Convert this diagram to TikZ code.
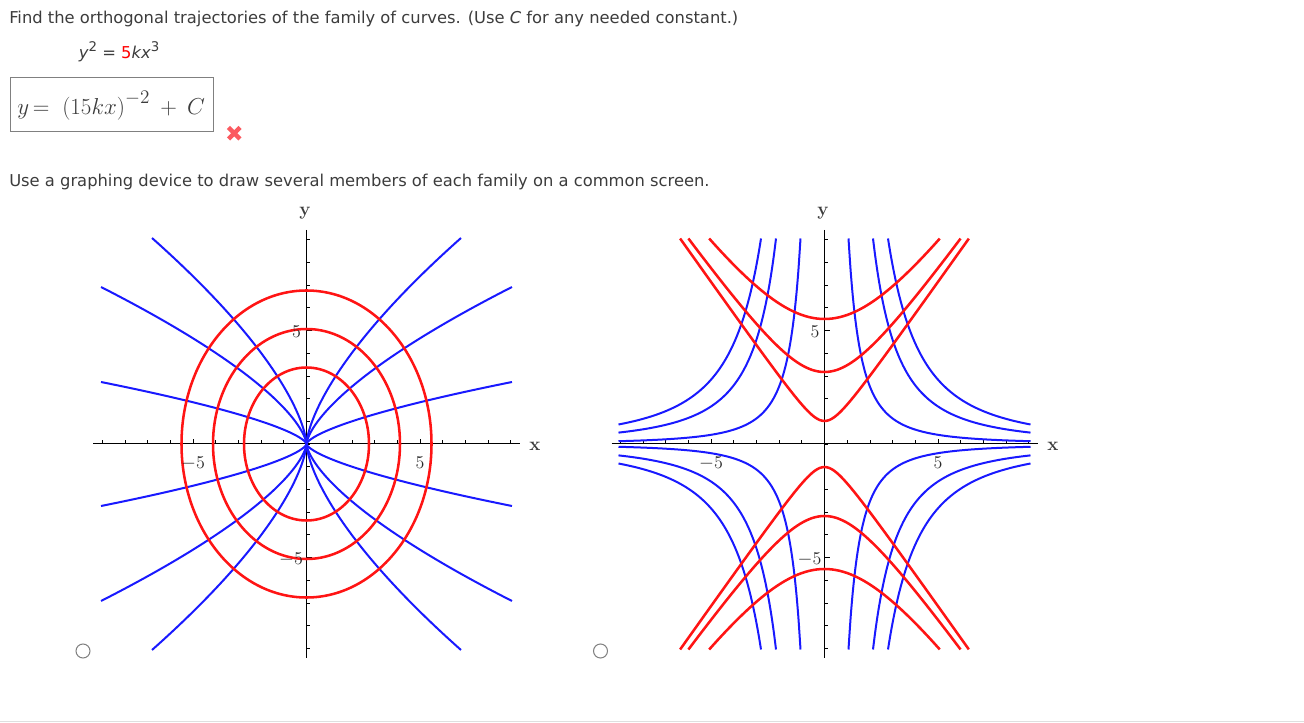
\documentclass[tikz,border=0pt]{standalone}
\usepackage{fontspec}
\setmainfont{DejaVu Sans}
\newfontfamily\plotfont{Latin Modern Roman}

\definecolor{textgray}{HTML}{3C3C3C}
\definecolor{crossred}{HTML}{FB5A60}

\newcommand{\raisedigit}[1]{\raisebox{0.42em}{\fontsize{10}{10}\selectfont #1}}

\tikzset{
  bluecurve/.style={line width=1.5pt,color=blue!90!white},
  redcurve/.style={line width=1.9pt,color=red!92!white},
  axisline/.style={line width=0.75pt,color=black},
  ticknum/.style={font=\plotfont\fontsize{13.5}{14}\selectfont,color=textgray!70!black},
  axisname/.style={font=\plotfont\bfseries\fontsize{14}{14}\selectfont,color=textgray},
  question/.style={font=\fontsize{12.25}{14}\selectfont,color=textgray,anchor=base west,inner sep=0pt},
  radio/.style={line width=0.8pt,color=gray}
}

\begin{document}
\begin{tikzpicture}[x=0.75pt,y=-0.75pt]
\useasboundingbox (0,0) rectangle (1304,723);

% question text
\node [question] (find) at (9,24) {Find the orthogonal trajectories of the family of curves. (Use \textit{C} for any needed constant.)};
\node [question] (family) at (78.5,58.5) {\textit{y}\raisedigit{2} = {\color{red}5}\textit{kx}\raisedigit{3}};
\node [question] (device) at (9,187) {Use a graphing device to draw several members of each family on a common screen.};

% answer box
\draw[gray,line width=0.75pt] (10,77.5) rectangle (213,132);
\node [color=textgray,inner sep=0pt,anchor=base west] (answer) at (17,115) {\fontsize{17.5}{20}\selectfont $y\,{=}\;\;\Bigl(15kx\Bigr)^{\mbox{\fontsize{15}{15}\selectfont$-2$}}\;\,{+}\;\,C$};
\draw[crossred,line width=3.2pt] (228.5,127.5)--(240,139);
\draw[crossred,line width=3.2pt] (240,127.5)--(228.5,139);

% left plot
\begin{scope}[shift={(306.5,444)}]
\draw[axisline] (-213.5,0)--(213,0);
\draw[axisline] (0,-214)--(0,214);
\foreach \i in {-9,...,9} {
  \draw[axisline,line width=0.5pt] (\i*22.7,0)--(\i*22.7,-3.5);
  \draw[axisline,line width=0.5pt] (0,\i*22.7)--(3.5,\i*22.7);
}
\foreach \i in {-5,5} {
  \draw[axisline,line width=0.5pt] (\i*22.7,0)--(\i*22.7,-5);
  \draw[axisline,line width=0.5pt] (0,\i*22.7)--(5,\i*22.7);
}
\foreach \ex/\ey in {154.5/206,205.5/157,205.5/62} {
  \foreach \sx in {-1,1} {
    \foreach \sy in {-1,1} {
      \draw[bluecurve,smooth,samples=50,domain=0:\ey,variable=\t] plot ({\sx*\ex*(\t/\ey)*sqrt(\t/\ey)},{\sy*\t});
    }
  }
}
\draw[redcurve] (0,0) ellipse (62.5 and 76.5);
\draw[redcurve] (0,0) ellipse (93.5 and 115);
\draw[redcurve] (0,0) ellipse (125 and 153.5);

\node [axisname] (lefty) at (-1.5,-231) {y};
\node [axisname] (leftx) at (228.5,2.5) {x};
\node [ticknum] (leftxa) at (-113.5,19) {$-$5};
\node [ticknum] (leftxb) at (113.5,19) {5};
\node [ticknum] (leftya) at (-10,-112.5) {5};
\node [ticknum] (leftyb) at (-15.5,115) {$-$5};
\end{scope}

% right plot
\begin{scope}[shift={(824.5,444)}]
\draw[axisline] (-213,0)--(213,0);
\draw[axisline] (0,-214)--(0,214);
\foreach \i in {-9,...,9} {
  \draw[axisline,line width=0.5pt] (\i*22.7,0)--(\i*22.7,-3.5);
  \draw[axisline,line width=0.5pt] (0,\i*22.7)--(3.5,\i*22.7);
}
\foreach \i in {-5,5} {
  \draw[axisline,line width=0.5pt] (\i*22.7,0)--(\i*22.7,-5);
  \draw[axisline,line width=0.5pt] (0,\i*22.7)--(5,\i*22.7);
}
\foreach \ex in {63.5,48.5,24} {
  \foreach \sx in {-1,1} {
    \foreach \sy in {-1,1} {
      \draw[bluecurve,smooth,samples=90,domain=\ex:206,variable=\t] plot ({\sx*\t},{\sy*205.5*(\ex/\t)*(\ex/\t)});
    }
  }
}
\foreach \v in {0.23,0.72,1.25} {
  \foreach \sy in {-1,1} {
    \draw[redcurve,smooth,samples=61,domain=-1:1,variable=\t] plot ({100*\t*sqrt((2.055*2.055-\v*\v)/2)},{\sy*100*sqrt(\v*\v+\t*\t*(2.055*2.055-\v*\v))});
  }
}

\node [axisname] (righty) at (-1.5,-231) {y};
\node [axisname] (rightx) at (228.5,2.5) {x};
\node [ticknum] (rightxa) at (-113.5,19) {$-$5};
\node [ticknum] (rightxb) at (113.5,19) {5};
\node [ticknum] (rightya) at (-9.5,-112.5) {5};
\node [ticknum] (rightyb) at (-15,115) {$-$5};
\end{scope}

% radio buttons
\draw[radio] (83,651) circle (7);
\draw[radio] (600.5,651) circle (7);

\draw[gray!25,line width=0.75pt] (0,721.5)--(1304,721.5);

\end{tikzpicture}
\end{document}
